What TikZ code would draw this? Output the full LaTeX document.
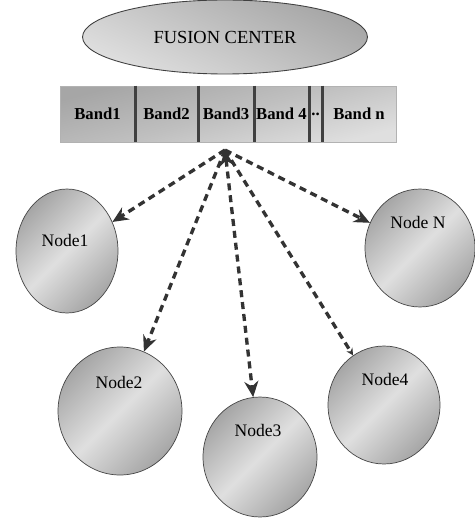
\documentclass[tikz,border=0pt]{standalone}
\usepackage{fontspec}
\setmainfont{Liberation Serif}
\usetikzlibrary{arrows.meta, shapes.geometric}

\begin{document}
\begin{tikzpicture}[x=0.02cm, y=-0.02cm, >={Stealth[length=9pt, width=8pt]},
  sensor/.style={ellipse, draw=gray!55!black, line width=0.4pt, inner sep=0pt,
    top color=gray!70, bottom color=gray!70, middle color=gray!25, shading angle=45},
  tag/.style={font=\fontsize{10}{12}\selectfont, inner sep=1pt},
  band/.style={minimum height=1.12cm, inner sep=0pt, font=\bfseries\fontsize{9.5}{11}\selectfont},
  link/.style={draw=black!80, line width=1.9pt, dash pattern=on 4pt off 2.8pt}]
\useasboundingbox (0,0) rectangle (474,530);

% fusion center and the band bar
\node[ellipse, draw=gray!50!black, line width=0.5pt, minimum width=5.7cm, minimum height=1.48cm,
  top color=gray!70, bottom color=gray!25, shading angle=-25,
  font=\fontsize{10.5}{12}\selectfont] (fc) at (225,37) {FUSION CENTER};
\node[draw=gray!60, minimum width=6.72cm, minimum height=1.12cm, inner sep=0pt,
  top color=gray!70, bottom color=gray!25, middle color=gray!50, shading angle=15] (bar) at (228,114) {};
\node[band, minimum width=1.5cm] (b1) at (97.5,114) {Band1};
\node[band, minimum width=1.26cm] (b2) at (166.5,114) {Band2};
\node[band, minimum width=1.12cm] (b3) at (226,114) {Band3};
\node[band, minimum width=1.1cm] (b4) at (281.5,114) {Band 4};
\node[band, minimum width=0.26cm] (bg) at (315.5,114) {..};
\node[band, minimum width=1.48cm] (bn) at (359,114) {Band n};
\foreach \b in {b1,b2,b3,b4,bg}
  \draw[black!75, line width=1.6pt] (\b.north east) -- (\b.south east);

% sensor nodes
\node[sensor, minimum width=2.04cm, minimum height=2.48cm] (n1) at (67,251) {};
\node[sensor, minimum width=2.2cm, minimum height=2.36cm] (nn) at (420,248) {};
\node[sensor, minimum width=2.48cm, minimum height=2.56cm] (n2) at (120,411) {};
\node[sensor, minimum width=2.28cm, minimum height=2.4cm] (n3) at (260,457) {};
\node[sensor, minimum width=2.24cm, minimum height=2.36cm] (n4) at (384,405) {};
\node[tag] (t1) at (65,240) {Node1};
\node[tag] (tn) at (418,222) {Node N};
\node[tag] (t2) at (119,382) {Node2};
\node[tag] (t3) at (258,430) {Node3};
\node[tag] (t4) at (385,379) {Node4};

% links from the bar
\coordinate (hub) at (225,150);
\draw[link, ->] (hub) -- (n1);
\draw[link, ->] (hub) -- (nn);
\draw[link, ->] (hub) -- (n2);
\draw[link, <->] (hub) -- (n3);
\draw[link, -{Stealth[length=4pt, width=4pt]}] (hub) -- (n4);
\end{tikzpicture}
\end{document}
